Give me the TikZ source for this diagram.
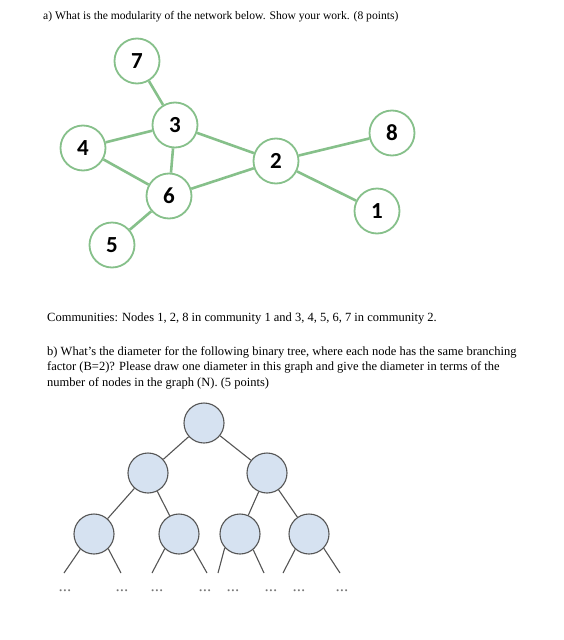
\documentclass[tikz,border=0pt]{standalone}
\usepackage{fontspec}
\setmainfont{Liberation Serif}
\newfontfamily\numfont{Carlito}
\usetikzlibrary{positioning}

\definecolor{netgreen}{RGB}{134,192,138}
\definecolor{treefill}{RGB}{214,226,241}
\definecolor{treeline}{RGB}{85,85,85}

\begin{document}
\begin{tikzpicture}[x=1pt, y=-1pt,
    vert/.style={draw=netgreen, line width=1.8pt, circle, fill=white, minimum size=45pt, inner sep=0pt, font=\numfont\bfseries\fontsize{23}{23}\selectfont},
    link/.style={draw=netgreen, line width=2.6pt},
    tnode/.style={draw=treeline, line width=1.1pt, circle, fill=treefill, minimum size=40pt, inner sep=0pt},
    tedge/.style={draw=treeline, line width=1.1pt},
    txt/.style={anchor=base west, inner sep=0pt, font=\fontsize{12.5}{14}\selectfont},
    more/.style={inner sep=0pt, text=treeline!80, font=\fontsize{17}{17}\selectfont}
]
\useasboundingbox (0,0) rectangle (564,640);

% part a
\node[txt, font=\fontsize{11.6}{13}\selectfont] (qa) at (43,19.5) {a) What is the modularity of the network below. Show your work. (8 points)};

\node[vert] (n7) at (137,61) {7};
\node[vert] (n3) at (175,125) {3};
\node[vert] (n4) at (83,148) {4};
\node[vert] (n6) at (169,196) {6};
\node[vert] (n2) at (276,161) {2};
\node[vert] (n8) at (392,133) {8};
\node[vert] (n1) at (377,211) {1};
\node[vert] (n5) at (112,245) {5};

\draw[link] (n7) -- (n3);
\draw[link] (n3) -- (n4);
\draw[link] (n3) -- (n2);
\draw[link] (n3) -- (n6);
\draw[link] (n4) -- (n6);
\draw[link] (n6) -- (n5);
\draw[link] (n6) -- (n2);
\draw[link] (n2) -- (n8);
\draw[link] (n2) -- (n1);

\node[txt] (comm) at (47,321.5) {Communities: Nodes 1, 2, 8 in community 1 and 3, 4, 5, 6, 7 in community 2.};

% part b
\node[txt] (qb1) at (47,355) {b) What's the diameter for the following binary tree, where each node has the same branching};
\node[txt] (qb2) at (47,370.5) {factor (B=2)? Please draw one diameter in this graph and give the diameter in terms of the};
\node[txt] (qb3) at (47,386) {number of nodes in the graph (N). (5 points)};

\node[tnode] (r) at (204,423) {};
\node[tnode] (l) at (148,473) {};
\node[tnode] (rr) at (267,473) {};
\node[tnode] (la) at (94,534) {};
\node[tnode] (lb) at (179,534) {};
\node[tnode] (ra) at (240,534) {};
\node[tnode] (rb) at (309,534) {};

\draw[tedge] (r) -- (l);
\draw[tedge] (r) -- (rr);
\draw[tedge] (l) -- (la);
\draw[tedge] (l) -- (lb);
\draw[tedge] (rr) -- (ra);
\draw[tedge] (rr) -- (rb);

% open ends
\coordinate (e1) at (64,573);
\coordinate (e2) at (121,573);
\coordinate (e3) at (152,573);
\coordinate (e4) at (207,573);
\coordinate (e5) at (218,573);
\coordinate (e6) at (264,573);
\coordinate (e7) at (283,573);
\coordinate (e8) at (340,573);
\draw[tedge] (la.-132) -- (e1);
\draw[tedge] (la.-46) -- (e2);
\draw[tedge] (lb.-134) -- (e3);
\draw[tedge] (lb.-46) -- (e4);
\draw[tedge] (ra.-138) -- (e5);
\draw[tedge] (ra.-50) -- (e6);
\draw[tedge] (rb.-132) -- (e7);
\draw[tedge] (rb.-44) -- (e8);

\node[more] (d1) at (65,591) {...};
\node[more] (d2) at (122,591) {...};
\node[more] (d3) at (157,591) {...};
\node[more] (d4) at (205,591) {...};
\node[more] (d5) at (233,591) {...};
\node[more] (d6) at (271,591) {...};
\node[more] (d7) at (299,591) {...};
\node[more] (d8) at (342,591) {...};
\end{tikzpicture}
\end{document}
